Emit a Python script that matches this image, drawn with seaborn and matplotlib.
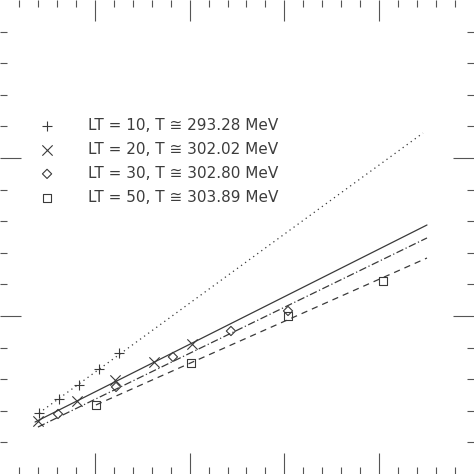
import numpy as np
import pandas as pd
import matplotlib
matplotlib.use("Agg")
import matplotlib.pyplot as plt
import seaborn as sns

# datos (x en unidades de LT*n, y arbitrarias)
x_lt10 = [20.6, 31.1, 41.7, 52.2, 62.8]
y_lt10 = [0.386, 0.475, 0.563, 0.665, 0.766]
x_lt20 = [20.0, 40.6, 60.7, 81.2, 101.3]
y_lt20 = [0.335, 0.462, 0.595, 0.709, 0.823]
x_lt30 = [30.6, 61.2, 91.2, 121.8, 151.9]
y_lt30 = [0.380, 0.551, 0.741, 0.905, 1.032]
x_lt50 = [50.6, 100.7, 151.9, 202.0]
y_lt50 = [0.437, 0.703, 1.000, 1.222]

labels = ["LT = 10, T \u2245 293.28 MeV",
          "LT = 20, T \u2245 302.02 MeV",
          "LT = 30, T \u2245 302.80 MeV",
          "LT = 50, T \u2245 303.89 MeV"]

# rectas de ajuste (extremos)
fit_x_solid = [18.5, 225.2]
fit_y_solid = [0.329, 1.576]
fit_x_dashdot = [20.0, 225.2]
fit_y_dashdot = [0.297, 1.494]
fit_x_dashed = [50.6, 225.2]
fit_y_dashed = [0.437, 1.367]
fit_x_dotted = [20.6, 223.1]
fit_y_dotted = [0.386, 2.158]

sns.set_style("white")
plt.rcParams["font.family"] = ["DejaVu Sans"]

col = "#3a3a3a"
fig = plt.figure(figsize=(4.74, 4.74), dpi=100)
ax = fig.add_axes([0, 0, 1, 1])

# rectas
sns.lineplot(x=fit_x_dotted, y=fit_y_dotted, ax=ax, color=col, lw=0.9, linestyle=(0, (1, 3)), legend=False)
sns.lineplot(x=fit_x_solid, y=fit_y_solid, ax=ax, color=col, lw=0.9, legend=False)
sns.lineplot(x=fit_x_dashdot, y=fit_y_dashdot, ax=ax, color=col, lw=0.9, linestyle=(0, (6, 2, 1, 2)), legend=False)
sns.lineplot(x=fit_x_dashed, y=fit_y_dashed, ax=ax, color=col, lw=0.9, linestyle=(0, (5, 4)), legend=False)

# puntos
series = [(x_lt10, y_lt10, "+", 55), (x_lt20, y_lt20, "x", 55),
          (x_lt30, y_lt30, "D", 22), (x_lt50, y_lt50, "s", 30)]
for (xs, ys, m, s), lab in zip(series, labels):
    face = "none" if m in ("D", "s") else col
    sns.scatterplot(x=xs, y=ys, ax=ax, marker=m, s=s, color=col,
                    facecolors=face, edgecolor=col, linewidth=0.8, label=lab)

ax.set_xlim(0, 250)
ax.set_ylim(0, 3)
# sin marcas en los bordes
ax.set_xticks(np.arange(50, 250, 50))
ax.set_xticks([v for v in np.arange(10, 250, 10) if v % 50 != 0], minor=True)
ax.set_yticks([1, 2])
ax.set_yticks([v for v in np.round(np.arange(0.2, 3.0, 0.2), 1) if v % 1 != 0], minor=True)
ax.tick_params(which="both", direction="in", top=True, right=True, bottom=True, left=True,
               labelbottom=False, labelleft=False, color="#555555", width=0.8)
ax.tick_params(which="major", length=15)
ax.tick_params(which="minor", length=5)
for sp in ax.spines.values():
    sp.set_visible(False)

leg = ax.legend(loc="upper left", bbox_to_anchor=(39.4 / 474, 1 - 118 / 474), frameon=False,
                fontsize=11, handlelength=1.0, handletextpad=2.18, borderpad=0, borderaxespad=0,
                labelspacing=0.585)
for t in leg.get_texts():
    t.set_color("#3c3c3c")

fig.savefig("out.png", dpi=100)
